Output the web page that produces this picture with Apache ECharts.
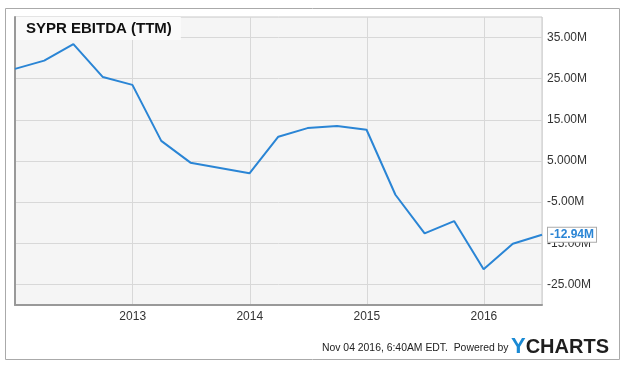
<!DOCTYPE html>
<html>
<head>
<meta charset="utf-8">
<script src="https://cdn.jsdelivr.net/npm/echarts@6/dist/echarts.min.js"></script>
<style>
  html, body { margin: 0; padding: 0; background: #fff; }
  #chart { width: 640px; height: 376px; }
</style>
</head>
<body>
<div id="chart"></div>
<script>
// quarterly TTM EBITDA, millions
const dates = [
  '2011-12-31', '2012-03-31', '2012-06-30', '2012-09-30',
  '2012-12-31', '2013-03-31', '2013-06-30', '2013-09-30',
  '2013-12-31', '2014-03-31', '2014-06-30', '2014-09-30',
  '2014-12-31', '2015-03-31', '2015-06-30', '2015-09-30',
  '2015-12-31', '2016-03-31', '2016-06-30'
]
const ebitda = [
  27.4, 29.4, 33.4, 25.4,
  23.5, 9.9, 4.6, 3.3,
  2.0, 10.9, 13.0, 13.5,
  12.6, -3.2, -12.6, -9.6,
  -21.3, -15.1, -12.94
]
const yTicks = [35, 25, 15, 5, -5, -15, -25]
const yTickLabels = ['35.00M', '25.00M', '15.00M', '5.000M', '-5.00M', '-15.00M', '-25.00M']
const lastLabel = '-12.94M'

const blue = '#2a85d5'
const font = 'Liberation Sans'
const DAY = 24 * 3600 * 1000

const chart = echarts.init(document.getElementById('chart'))
const xMin = new Date(dates[0]).getTime()

const option = {
  animation: false,
  textStyle: { fontFamily: font },
  title: {
    text: 'SYPR EBITDA (TTM)',
    left: 16,
    top: 17,
    padding: [4, 9, 4, 10],
    backgroundColor: '#fafafa',
    textStyle: { fontSize: 15, fontWeight: 'bold', color: '#111', fontFamily: font }
  },
  grid: {
    left: 15,
    right: 98,
    top: 17,
    bottom: 71,
    show: true,
    backgroundColor: '#f5f5f5',
    borderColor: '#c8c8c8',
    borderWidth: 1
  },
  xAxis: {
    type: 'time',
    min: dates[0],
    max: dates[dates.length - 1],
    minInterval: 365 * DAY,
    axisLine: { show: true, onZero: false, lineStyle: { color: '#999', width: 2 } },
    axisTick: { show: false },
    splitLine: { show: true, lineStyle: { color: '#d8d8d8', width: 1 } },
    axisLabel: {
      color: '#333',
      fontSize: 12,
      margin: 6,
      formatter: function (v) {
        const d = new Date(v)
        if (v - xMin < 30 * DAY) return ''
        return d.getMonth() === 0 && d.getDate() === 1 ? String(d.getFullYear()) : ''
      }
    }
  },
  yAxis: [
    {
      type: 'value',
      position: 'right',
      min: -30,
      max: 40,
      interval: 5,
      axisLine: { show: false },
      axisTick: { show: false },
      splitLine: { show: false },
      axisLabel: {
        color: '#333',
        fontSize: 12,
        margin: 5,
        formatter: function (v) {
          const i = yTicks.indexOf(v)
          return i >= 0 ? yTickLabels[i] : ''
        }
      }
    },
    {
      // gridlines only, at the odd 5M steps
      type: 'value',
      position: 'right',
      min: -30,
      max: 40,
      interval: 10,
      axisLine: { show: false },
      axisTick: { show: false },
      axisLabel: { show: false },
      splitLine: { show: false },
      minorTick: { show: false, splitNumber: 2 },
      minorSplitLine: { show: true, lineStyle: { color: '#d8d8d8', width: 1 } }
    },
    {
      // thick left edge of the plot
      type: 'value',
      position: 'left',
      min: -30,
      max: 40,
      axisLine: { show: true, onZero: false, lineStyle: { color: '#999', width: 2 } },
      axisTick: { show: false },
      axisLabel: { show: false },
      splitLine: { show: false }
    }
  ],
  series: [
    {
      type: 'line',
      yAxisIndex: 0,
      data: dates.map((d, i) => [d, ebitda[i]]),
      showSymbol: false,
      lineStyle: { color: blue, width: 2 },
      itemStyle: { color: blue },
      endLabel: {
        show: true,
        formatter: lastLabel,
        distance: 6,
        color: blue,
        fontWeight: 'bold',
        fontSize: 12,
        fontFamily: font,
        backgroundColor: '#fff',
        borderColor: '#aaa',
        borderWidth: 1,
        padding: [1, 2, 1, 2]
      }
    }
  ],
  graphic: [
    {
      type: 'rect',
      shape: { x: 5.5, y: 8.5, width: 614, height: 351 },
      style: { fill: 'none', stroke: '#aaa', lineWidth: 1 },
      silent: true,
      z: -1
    },
    {
      type: 'text',
      left: 322,
      top: 343,
      style: {
        text: 'Nov 04 2016, 6:40AM EDT.  Powered by',
        fill: '#222',
        font: '10.4px "Liberation Sans"'
      }
    },
    {
      type: 'text',
      left: 511,
      top: 336,
      style: {
        text: '{y|Y}{c|CHARTS}',
        rich: {
          y: { fill: '#1a8ad4', font: 'bold 22px "Liberation Sans"' },
          c: { fill: '#1e1e1e', font: 'bold 20px "Liberation Sans"' }
        }
      }
    }
  ]
}

chart.setOption(option)
</script>
</body>
</html>
